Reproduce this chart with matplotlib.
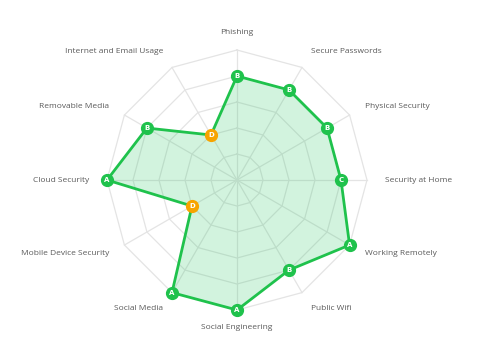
import numpy as np
import matplotlib.pyplot as plt

categories = ["Phishing", "Secure Passwords", "Physical Security", "Security at Home",
              "Working Remotely", "Public Wifi", "Social Engineering", "Social Media",
              "Mobile Device Security", "Cloud Security", "Removable Media",
              "Internet and Email Usage"]
values = [4, 4, 4, 4, 5, 4, 5, 5, 2, 5, 4, 2]
grades = ["B", "B", "B", "C", "A", "B", "A", "A", "D", "A", "B", "D"]

GREEN = "#1fc24c"
ORANGE = "#f7a400"
GRID = "#e4e4e4"

n = len(categories)
theta = np.arange(n) * 2 * np.pi / n

fig = plt.figure(figsize=(4.8, 3.62), dpi=100)
ax = fig.add_axes([0.2229, 0.1436, 0.5417, 0.7182], projection="polar")
ax.set_theta_zero_location("N")
ax.set_theta_direction(-1)
ax.set_ylim(0, 5)
ax.grid(False)
ax.spines["polar"].set_visible(False)
ax.set_xticks([]); ax.set_yticks([])
ax.patch.set_alpha(0)

# mřížka: mnohoúhelníky + paprsky
tc = np.append(theta, theta[0])
for r in range(1, 6):
    ax.plot(tc, [r] * (n + 1), color=GRID, lw=0.9, zorder=1, clip_on=False)
for t in theta:
    ax.plot([t, t], [0, 5], color=GRID, lw=0.9, zorder=1, clip_on=False)

vc = np.append(values, values[0])
ax.fill(tc, vc, color="#22c55e", alpha=0.2, lw=0, zorder=2, clip_on=False)
ax.plot(tc, vc, color=GREEN, lw=2, zorder=3, clip_on=False)

for t, v, g in zip(theta, values, grades):
    c = ORANGE if g == "D" else GREEN
    ax.plot(t, v, "o", ms=8.5, color=c, zorder=4, clip_on=False)
    ax.text(t, v, g, color="white", fontsize=5, fontweight="bold",
            ha="center", va="center", zorder=5, clip_on=False)

for t, lab in zip(theta, categories):
    s = np.sin(t)
    ha = "center" if abs(s) < 1e-6 else ("left" if s > 0 else "right")
    ax.text(t, 5.69, lab, ha=ha, va="center", fontsize=6,
            family="Open Sans", color="#5a5a5a")

plt.savefig("out.png", dpi=100)
